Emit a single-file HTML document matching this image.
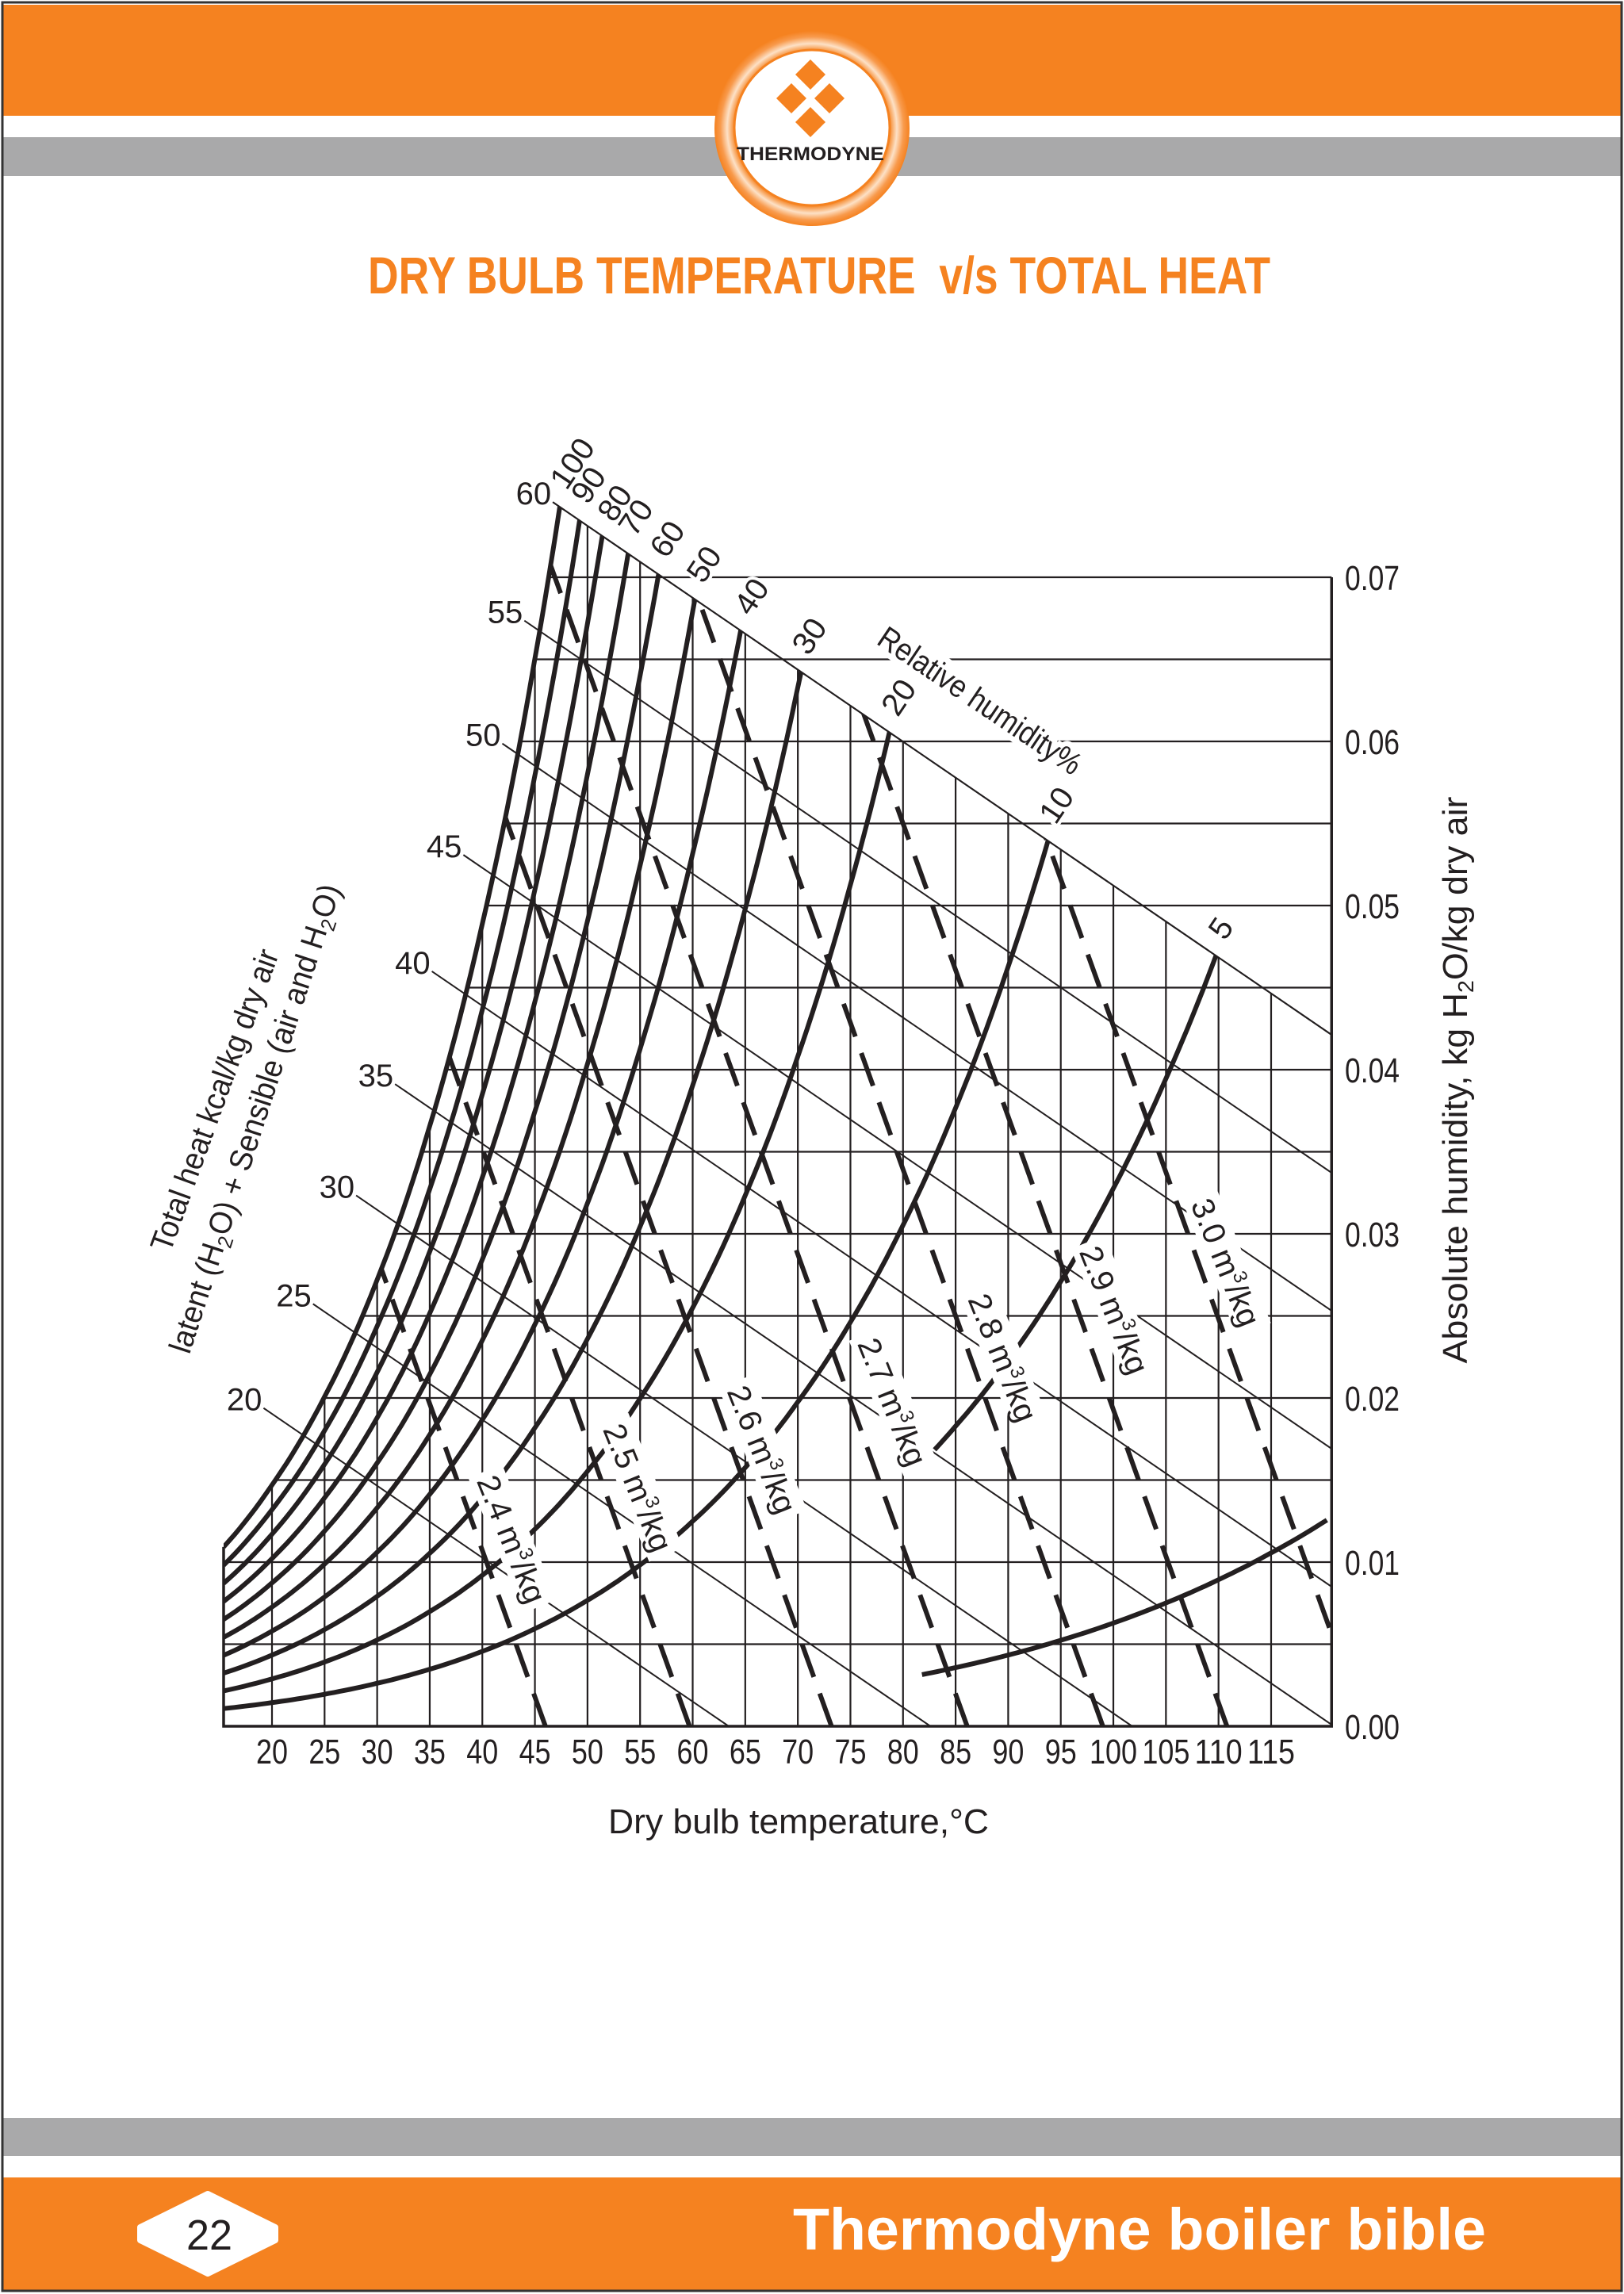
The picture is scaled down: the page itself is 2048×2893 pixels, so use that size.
<!DOCTYPE html>
<html><head><meta charset="utf-8"><title>Dry bulb temperature vs total heat</title>
<style>
html,body{margin:0;padding:0;background:#fff;}
svg{display:block;font-family:"Liberation Sans",Arial,sans-serif;}
</style></head>
<body>
<svg id="page" width="2048" height="2893" viewBox="0 0 2048 2893" xmlns="http://www.w3.org/2000/svg">
<defs>
<radialGradient id="ringGrad" cx="0.5" cy="0.5" r="0.5">
<stop offset="0" stop-color="#f58220"/><stop offset="0.79" stop-color="#f58220"/>
<stop offset="0.87" stop-color="#fde1c6"/><stop offset="0.94" stop-color="#f89a4c"/>
<stop offset="1" stop-color="#f58220"/></radialGradient>
</defs>
<g>
<rect x="4" y="6" width="2040" height="140" fill="#f58220"/>
<rect x="4" y="173" width="2040" height="49" fill="#a9a9aa"/>
<g>
<circle cx="1024" cy="162" r="123" fill="url(#ringGrad)"/>
<circle cx="1024" cy="161" r="98" fill="#fff" stroke="#f58220" stroke-width="3"/>
<polygon points="1022,75 1041,94 1022,113 1003,94" fill="#f58220"/>
<polygon points="998,105 1017,124 998,143 979,124" fill="#f58220"/>
<polygon points="1046,105 1065,124 1046,143 1027,124" fill="#f58220"/>
<polygon points="1022,135 1041,154 1022,173 1003,154" fill="#f58220"/>
<text x="1022" y="202" font-size="24" font-weight="bold" fill="#231f20" text-anchor="middle" textLength="186" lengthAdjust="spacingAndGlyphs">THERMODYNE</text>
</g>
<text x="464" y="370" font-size="66" font-weight="bold" fill="#f58220" textLength="1138" lengthAdjust="spacingAndGlyphs">DRY BULB TEMPERATURE&#160; v/s TOTAL HEAT</text>
</g>
<g id="chart"></g>
<g>
<rect x="4" y="2671" width="2040" height="48" fill="#a9a9aa"/>
<rect x="4" y="2746" width="2040" height="142" fill="#f58220"/>
<polygon points="262,2767 347,2809 347,2825 262,2867 177,2825 177,2809" fill="#fff" stroke="#fff" stroke-width="8" stroke-linejoin="round"/>
<text x="264" y="2837" font-size="54" fill="#231f20" text-anchor="middle" textLength="58" lengthAdjust="spacingAndGlyphs">22</text>
<text x="1000" y="2837" font-size="74" font-weight="bold" fill="#fff" textLength="874" lengthAdjust="spacingAndGlyphs">Thermodyne boiler bible</text>
</g>
<rect x="3" y="3" width="2042" height="2886" fill="none" stroke="#333" stroke-width="3"/>
</svg>
<script>
// ---- chart data ----
const tickT = [20,25,30,35,40,45,50,55,60,65,70,75,80,85,90,95,100,105,110,115];
const tickW = [0.00,0.01,0.02,0.03,0.04,0.05,0.06,0.07];
const tickWLabels = ["0.00","0.01","0.02","0.03","0.04","0.05","0.06","0.07"];
const gridT = [20,25,30,35,40,45,50,55,60,65,70,75,80,85,90,95,100,105,110,115];
const gridW = [0.005,0.01,0.015,0.02,0.025,0.03,0.035,0.04,0.045,0.05,0.055,0.06,0.065,0.07];
const psatT = [15,20,25,30,35,40,45,50,55,60,65,70,75,80,85,90,95,100,105,110,115,120,125];
const psatKPa = [1.705,2.339,3.169,4.246,5.628,7.384,9.593,12.35,15.76,19.95,25.04,31.20,38.58,47.41,57.87,70.18,84.61,101.42,120.9,143.4,169.2,198.7,232.3];
const rhLevels = [100,90,80,70,60,50,40,30,20,10,5,1];
const rhStartT = [15.4,15.4,15.4,15.4,15.4,15.4,15.4,15.4,15.4,15.4,83,81.8];
const enthalpyLevels = [20,25,30,35,40,45,50,55,60];
const enthalpyStartT = [19.2,23.9,28.0,31.7,35.2,38.2,41.9,44.0,46.7];
const volLevels = ["2.4","2.5","2.6","2.7","2.8","2.9","3.0"];
const volBaseT = [46,59.7,73.2,86.1,99,110.8,123.9];
const volLabelT = [42.8,54.8,66.6,79.0,89.5,100.1,110.7];
const volLabelW = [0.0114,0.01454,0.01686,0.01976,0.02246,0.02536,0.02826];

// ---- scales ----
const TMIN = 15.4, TMAX = 120.75;
const xs = T => 343 + (T - 20) * 13.263;
const ys = W => 2177 - W * 20700;
const X0 = xs(TMIN), X1 = xs(TMAX), YB = ys(0);
const ENTH_SLOPE = 0.684;
const enthRightY = h => 2175 - (h - 35) * 34.8;
const enthY = (h, x) => enthRightY(h) - ENTH_SLOPE * (X1 - x);
const VOL_SLOPE = 560;             // dT decrease per unit W along constant-volume lines
const topH = enthalpyLevels[enthalpyLevels.length - 1];
const y60 = x => enthY(topH, x);

function Ps(T){
  let i = Math.floor((T - psatT[0]) / 5);
  i = Math.max(0, Math.min(i, psatT.length - 2));
  const f = (T - psatT[i]) / (psatT[i+1] - psatT[i]);
  return Math.exp(Math.log(psatKPa[i]) * (1 - f) + Math.log(psatKPa[i+1]) * f);
}
function Wrh(T, rh){ const p = rh / 100 * Ps(T); return 0.622 * p / (101.325 - p); }

const NS = "http://www.w3.org/2000/svg";
const chart = document.getElementById('chart');
function mk(tag, attrs, parent){
  const e = document.createElementNS(NS, tag);
  for (const k in attrs) e.setAttribute(k, attrs[k]);
  (parent || chart).appendChild(e);
  return e;
}
const INK = "#231f20";

const satPts = [];
for (let T = TMIN; T <= 60; T += 0.25){
  const x = xs(T), y = ys(Wrh(T, 100));
  if (y < y60(x)) { satPts.push([x, y60(x)]); break; }
  satPts.push([x, y]);
}
const defs = document.querySelector('defs');
const clipB = mk('clipPath', {id: 'clipUnderSat'}, defs);
const polyB = mk('polygon', {}, clipB);
polyB.setAttribute('points', [[X0, YB]].concat(satPts).concat([[X1, y60(X1)], [X1, YB]]).map(p => p.join(',')).join(' '));
const clipA = mk('clipPath', {id: 'clipUnderTop'}, defs);
const polyA = mk('polygon', {}, clipA);
polyA.setAttribute('points', `${X0},${y60(X0)} ${X1},${y60(X1)} ${X1},${YB + 4} ${X0},${YB + 4}`);

// grid
const grid = mk('g', {'clip-path': 'url(#clipUnderSat)'});


gridT.forEach(T => {
  const l = mk('line', {x1: xs(T), x2: xs(T), y1: YB, y2: 600, stroke: INK, 'stroke-width': 2.2}, grid);
  
  
});
gridW.forEach(w => {
  let lo = TMIN, hi = 60, x;
  if (Wrh(TMIN, 100) >= w) x = X0;
  else { for (let k = 0; k < 40; k++){ const m = (lo + hi) / 2; if (Wrh(m, 100) < w) lo = m; else hi = m; } x = xs(lo); }
  const l = mk('line', {x1: x, x2: X1, y1: ys(w), y2: ys(w), stroke: INK, 'stroke-width': 2.2});
  
  
});

// enthalpy lines
enthalpyLevels.forEach((h, i) => {
  const sx = xs(enthalpyStartT[i]), sy = enthY(h, sx);
  let ex = X1, ey = enthRightY(h);
  if (ey > YB){ ex = X1 - (ey - YB) / ENTH_SLOPE; ey = YB; }
  const l = mk('line', {x1: sx, y1: sy, x2: ex, y2: ey, stroke: INK, 'stroke-width': 2});
  
  
  const t = mk('text', {x: sx - 2, y: sy + 3, 'font-size': 40, 'text-anchor': 'end', fill: INK});
  
  
  t.textContent = h;
});

// specific volume dashed lines (T decreases as W increases)
const vg = mk('g', {'clip-path': 'url(#clipUnderSat)'});


volBaseT.forEach((T0, i) => {
  const l = mk('line', {x1: xs(T0), y1: ys(0), x2: xs(T0 - 0.09 * VOL_SLOPE), y2: ys(0.09), stroke: INK, 'stroke-width': 6, 'stroke-dasharray': '44 22'}, vg);
  
  
});

// RH curves
const rg = mk('g', {'clip-path': 'url(#clipUnderTop)'});


const rhTops = [];
rhLevels.forEach((rh, i) => {
  const pts = []; let top = null;
  for (let T = rhStartT[i]; T <= TMAX + 0.01; T += 0.5){
    const x = xs(T), y = ys(Wrh(T, rh));
    pts.push(x.toFixed(1) + ',' + y.toFixed(1));
    if (y < y60(x)) { top = [x, y60(x)]; break; }
  }
  const p = mk('polyline', {points: pts.join(' '), fill: 'none', stroke: INK, 'stroke-width': 6, 'stroke-linejoin': 'round'}, rg);
  
  
  rhTops.push(top);
});

const tl = mk('line', {x1: xs(enthalpyStartT[enthalpyStartT.length-1]), y1: y60(xs(enthalpyStartT[enthalpyStartT.length-1])), x2: X1, y2: y60(X1), stroke: INK, 'stroke-width': 2});


const fr = mk('polyline', {points: `${X0},${ys(Wrh(TMIN,100))} ${X0},${YB} ${X1},${YB} ${X1},${ys(0.07)}`, fill: 'none', stroke: INK, 'stroke-width': 3.5});



rhLevels.forEach((rh, i) => {
  const top = rhTops[i]; if (!top) return;
  const x = top[0] + 8, y = top[1] - 20;
  const t = mk('text', {x: x, y: y, 'font-size': 40, fill: INK, transform: `rotate(-56 ${x} ${y})`, stroke: '#fff', 'stroke-width': 8, 'paint-order': 'stroke'});
  
  
  t.textContent = rh;
});
const rht = mk('text', {x: 1235, y: 897, 'font-size': 40, fill: INK, 'text-anchor': 'middle', transform: 'rotate(34 1235 885)', stroke: '#fff', 'stroke-width': 14, 'paint-order': 'stroke', textLength: 300, lengthAdjust: 'spacingAndGlyphs'});


rht.textContent = 'Relative humidity%';

volLevels.forEach((v, i) => {
  const cx = xs(volLabelT[i]), cy = ys(volLabelW[i]);
  const g = mk('g', {transform: `rotate(68 ${cx} ${cy})`});
  
  
  mk('rect', {x: cx - 92, y: cy - 24, width: 184, height: 46, fill: '#fff'}, g);
  const t = mk('text', {x: cx, y: cy + 14, 'font-size': 40, fill: INK, 'text-anchor': 'middle', textLength: 170, lengthAdjust: 'spacingAndGlyphs'}, g);
  t.textContent = v + ' m';
  const s = mk('tspan', {'font-size': 24, dy: -16}, t); s.textContent = '3';
  const s2 = mk('tspan', {dy: 16}, t); s2.textContent = '/kg';
});

tickT.forEach(T => {
  const t = mk('text', {x: xs(T), y: 2224, 'font-size': 44, fill: INK, 'text-anchor': 'middle', textLength: String(T).length * 20, lengthAdjust: 'spacingAndGlyphs'});
  
  
  t.textContent = T;
});
tickW.forEach((w, i) => {
  const t = mk('text', {x: 1696, y: ys(w) + 16, 'font-size': 44, fill: INK, textLength: 69, lengthAdjust: 'spacingAndGlyphs'});
  
  
  t.textContent = tickWLabels[i];
});

const xt = mk('text', {x: 767, y: 2312, 'font-size': 44, fill: INK, textLength: 480, lengthAdjust: 'spacingAndGlyphs'});


xt.textContent = 'Dry bulb temperature,°C';

const yt = mk('text', {x: 1850, y: 1362, 'font-size': 44, fill: INK, 'text-anchor': 'middle', transform: 'rotate(-90 1850 1362)', textLength: 715, lengthAdjust: 'spacingAndGlyphs'});


yt.textContent = 'Absolute humidity, kg H';
let sp = mk('tspan', {'font-size': 28, dy: 8}, yt); sp.textContent = '2';
sp = mk('tspan', {dy: -8}, yt); sp.textContent = 'O/kg dry air';

const lt1 = mk('text', {x: 272, y: 1400, 'font-size': 40, fill: INK, 'text-anchor': 'middle', transform: 'rotate(-70 272 1388)', textLength: 402, lengthAdjust: 'spacingAndGlyphs'});


lt1.textContent = 'Total heat kcal/kg dry air';
const lt2 = mk('text', {x: 323, y: 1423, 'font-size': 40, fill: INK, 'text-anchor': 'middle', transform: 'rotate(-72 323 1411)', textLength: 619, lengthAdjust: 'spacingAndGlyphs'});


lt2.textContent = 'latent (H';
sp = mk('tspan', {'font-size': 26, dy: 8}, lt2); sp.textContent = '2';
sp = mk('tspan', {dy: -8}, lt2); sp.textContent = 'O) + Sensible (air and H';
sp = mk('tspan', {'font-size': 26, dy: 8}, lt2); sp.textContent = '2';
sp = mk('tspan', {dy: -8}, lt2); sp.textContent = 'O)';
</script>
</body></html>
